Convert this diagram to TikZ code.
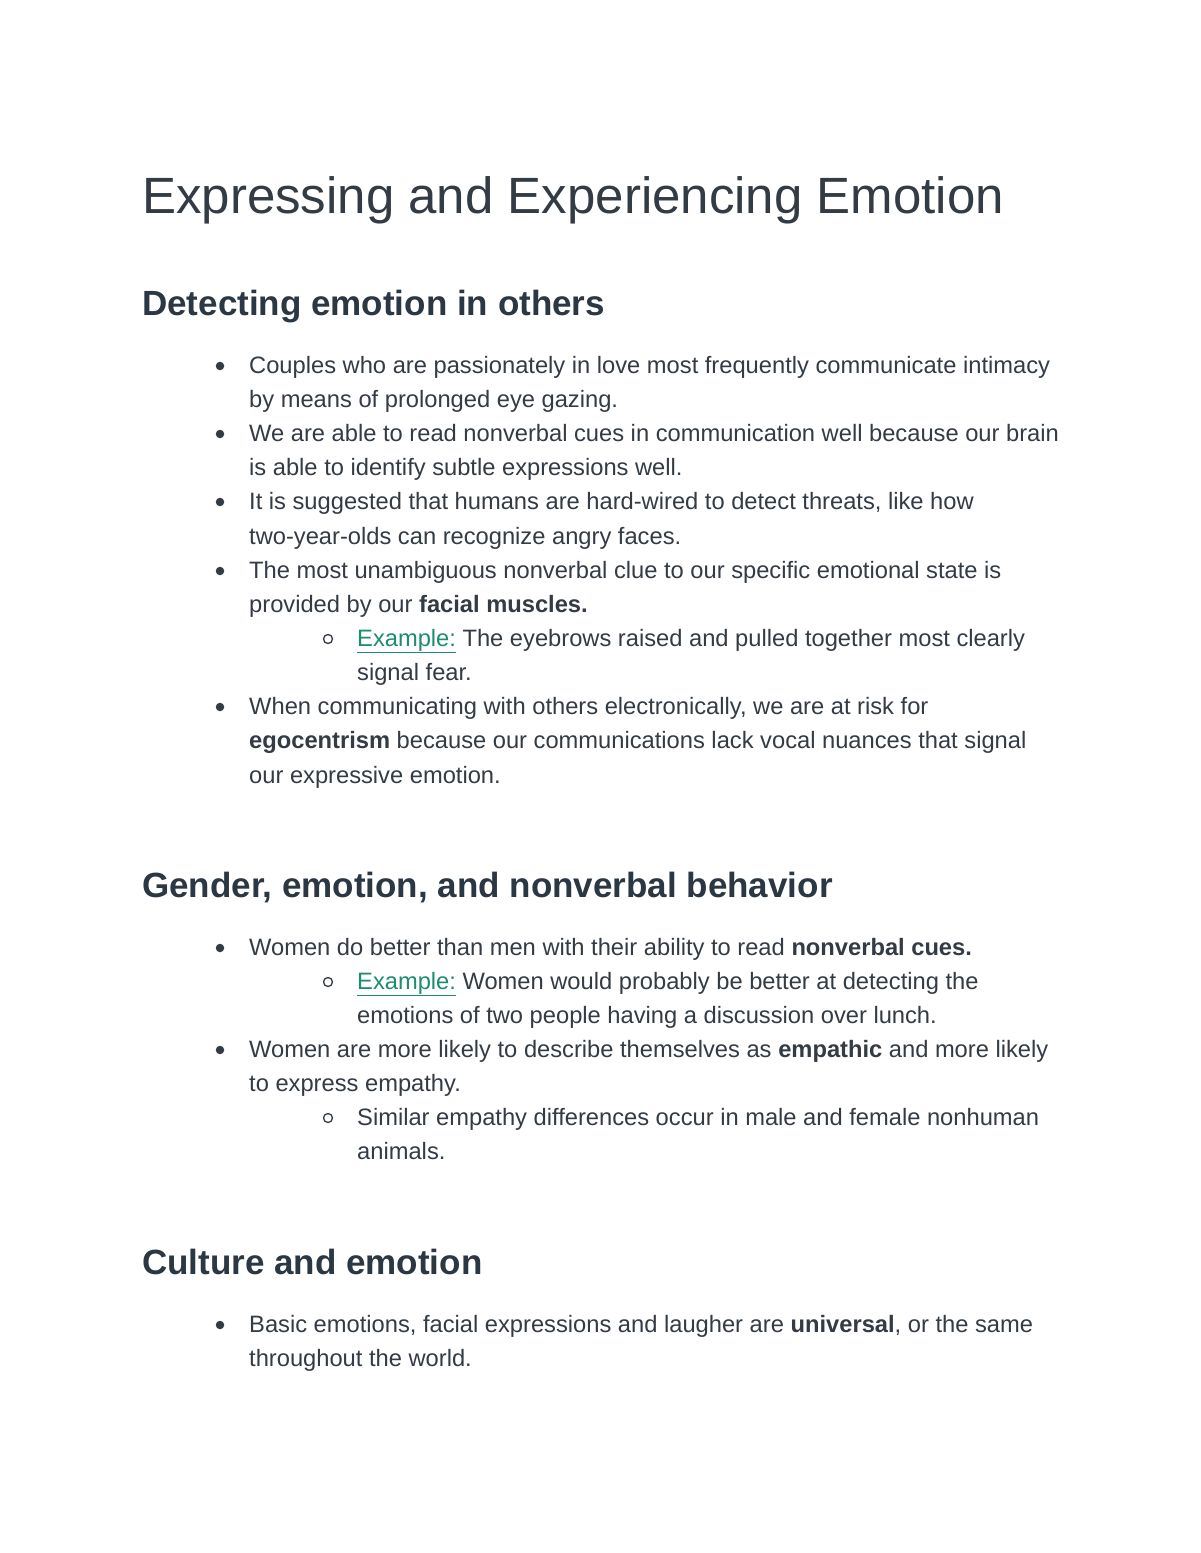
\documentclass[tikz,border=0pt]{standalone}
\usepackage{fontspec}
\setmainfont{Liberation Sans}
\definecolor{bodyc}{HTML}{333B44}
\definecolor{headc}{HTML}{2B3742}
\definecolor{linkc}{HTML}{1E8C6E}
\newcommand\exlink{\textcolor{linkc}{\underline{Example:}}}
\tikzset{
  txt/.style={anchor=base west,inner sep=0pt,font=\fontsize{23.7}{28}\selectfont,text=bodyc},
  ttl/.style={anchor=base west,inner sep=0pt,font=\fontsize{51}{60}\selectfont,text=bodyc},
  hd/.style={anchor=base west,inner sep=0pt,font=\fontsize{35}{42}\selectfont\bfseries,text=headc},
  dot/.style={circle,fill=bodyc,inner sep=0pt,minimum size=8.5pt},
  odot/.style={circle,draw=bodyc,line width=1.3pt,inner sep=0pt,minimum size=9pt}
}
\begin{document}
\begin{tikzpicture}[x=1pt,y=-1pt]
\useasboundingbox (0,0) rectangle (1200,1553);
\fill[white] (0,0) rectangle (1200,1553);
\node[ttl] (t) at (142,213) {Expressing and Experiencing Emotion};
\node[hd] (h1) at (142,315) {Detecting emotion in others};
\node[dot] (b1) at (220,366) {};
\node[txt] (l1) at (249,373) {Couples who are passionately in love most frequently communicate intimacy};
\node[txt] (l2) at (249,407) {by means of prolonged eye gazing.};
\node[dot] (b2) at (220,434) {};
\node[txt] (l3) at (249,441) {We are able to read nonverbal cues in communication well because our brain};
\node[txt] (l4) at (249,475) {is able to identify subtle expressions well.};
\node[dot] (b3) at (220,502) {};
\node[txt] (l5) at (249,509) {It is suggested that humans are hard-wired to detect threats, like how};
\node[txt] (l6) at (249,544) {two-year-olds can recognize angry faces.};
\node[dot] (b4) at (220,571) {};
\node[txt] (l7) at (249,578) {The most unambiguous nonverbal clue to our specific emotional state is};
\node[txt] (l8) at (249,612) {provided by our \textbf{facial muscles.}};
\node[odot] (s1) at (328,639) {};
\node[txt] (l9) at (357,646) {\exlink{} The eyebrows raised and pulled together most clearly};
\node[txt] (l10) at (357,680) {signal fear.};
\node[dot] (b5) at (220,707) {};
\node[txt] (l11) at (249,714) {When communicating with others electronically, we are at risk for};
\node[txt] (l12) at (249,748) {\textbf{egocentrism} because our communications lack vocal nuances that signal};
\node[txt] (l13) at (249,783) {our expressive emotion.};
\node[hd] (h2) at (142,897) {Gender, emotion, and nonverbal behavior};
\node[dot] (b6) at (220,948) {};
\node[txt] (l14) at (249,955) {Women do better than men with their ability to read \textbf{nonverbal cues.}};
\node[odot] (s2) at (328,982) {};
\node[txt] (l15) at (357,989) {\exlink{} Women would probably be better at detecting the};
\node[txt] (l16) at (357,1023) {emotions of two people having a discussion over lunch.};
\node[dot] (b7) at (220,1050) {};
\node[txt] (l17) at (249,1057) {Women are more likely to describe themselves as \textbf{empathic} and more likely};
\node[txt] (l18) at (249,1091) {to express empathy.};
\node[odot] (s3) at (328,1118) {};
\node[txt] (l19) at (357,1125) {Similar empathy differences occur in male and female nonhuman};
\node[txt] (l20) at (357,1159) {animals.};
\node[hd] (h3) at (142,1274) {Culture and emotion};
\node[dot] (b8) at (220,1325) {};
\node[txt] (l21) at (249,1332) {Basic emotions, facial expressions and laugher are \textbf{universal}, or the same};
\node[txt] (l22) at (249,1366) {throughout the world.};
\end{tikzpicture}
\end{document}
